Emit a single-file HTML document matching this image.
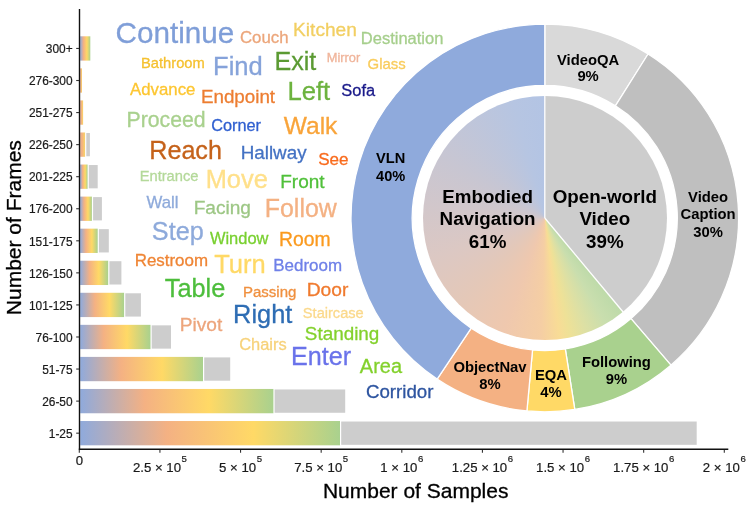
<!DOCTYPE html>
<html><head><meta charset="utf-8"><title>Dataset statistics</title>
<style>
html,body{margin:0;padding:0;background:#fff;}
#c{position:relative;width:748px;height:505px;overflow:hidden;background:#fff;font-family:"Liberation Sans",Arial,Helvetica,sans-serif;}
#pie{position:absolute;left:422.80px;top:96.00px;width:244.0px;height:244.0px;border-radius:50%;background:conic-gradient(from 0deg, #cdcdcd 0deg 140.2deg, #bddaa9 140.2deg, #c9deae 150deg, #dde0a4 160deg, #eee197 168deg, #f8dc96 173deg, #f5cea4 182deg, #efc8ae 200deg, #e4c8b8 225deg, #dcc8c3 250deg, #c8c6d2 300deg, #b6c5e2 345deg, #b3c4e4 360deg);}
svg{position:absolute;left:0;top:0;font-family:"Liberation Sans",Arial,Helvetica,sans-serif;}
</style></head><body><div id="c">
<div id="pie"></div>
<svg width="748" height="505" viewBox="0 0 748 505">
<defs><linearGradient id="g" x1="0" y1="0" x2="1" y2="0"><stop offset="0" stop-color="#8faadc"/><stop offset="0.333" stop-color="#f4b183"/><stop offset="0.667" stop-color="#ffd966"/><stop offset="1" stop-color="#a9d18e"/></linearGradient><linearGradient id="gs" x1="0" y1="0" x2="1" y2="0"><stop offset="0" stop-color="#eaae92"/><stop offset="0.4" stop-color="#f4b280"/><stop offset="0.8" stop-color="#f9cb6c"/><stop offset="1" stop-color="#f3d270"/></linearGradient></defs>
<rect x="80.2" y="36.30" width="10.10" height="24.3" fill="url(#g)"/>
<rect x="80.2" y="68.36" width="1.80" height="24.3" fill="url(#gs)"/>
<rect x="80.2" y="100.42" width="2.90" height="24.3" fill="url(#gs)"/>
<rect x="86.30" y="132.98" width="3.60" height="23.30" fill="#cdcdcd"/>
<rect x="80.2" y="132.48" width="4.90" height="24.3" fill="url(#gs)"/>
<rect x="88.80" y="165.04" width="8.90" height="23.30" fill="#cdcdcd"/>
<rect x="80.2" y="164.54" width="7.40" height="24.3" fill="url(#g)"/>
<rect x="93.10" y="197.10" width="8.80" height="23.30" fill="#cdcdcd"/>
<rect x="80.2" y="196.60" width="11.70" height="24.3" fill="url(#g)"/>
<rect x="98.90" y="229.16" width="9.90" height="23.30" fill="#cdcdcd"/>
<rect x="80.2" y="228.66" width="17.50" height="24.3" fill="url(#g)"/>
<rect x="109.40" y="261.22" width="12.00" height="23.30" fill="#cdcdcd"/>
<rect x="80.2" y="260.72" width="28.00" height="24.3" fill="url(#g)"/>
<rect x="125.30" y="293.28" width="15.60" height="23.30" fill="#cdcdcd"/>
<rect x="80.2" y="292.78" width="43.90" height="24.3" fill="url(#g)"/>
<rect x="151.70" y="325.34" width="19.30" height="23.30" fill="#cdcdcd"/>
<rect x="80.2" y="324.84" width="70.30" height="24.3" fill="url(#g)"/>
<rect x="204.20" y="357.40" width="26.00" height="23.30" fill="#cdcdcd"/>
<rect x="80.2" y="356.90" width="122.80" height="24.3" fill="url(#g)"/>
<rect x="274.60" y="389.46" width="70.60" height="23.30" fill="#cdcdcd"/>
<rect x="80.2" y="388.96" width="193.20" height="24.3" fill="url(#g)"/>
<rect x="341.20" y="421.52" width="355.50" height="23.30" fill="#cdcdcd"/>
<rect x="80.2" y="421.02" width="259.80" height="24.3" fill="url(#g)"/>
<g stroke="#111" stroke-width="1.4" fill="none">
<line x1="79.5" y1="9" x2="79.5" y2="450"/>
<line x1="78.8" y1="449.3" x2="728.3" y2="449.3"/>
</g>
<g stroke="#333" stroke-width="1.1">
<line x1="76.2" y1="48.45" x2="79" y2="48.45"/>
<line x1="76.2" y1="80.51" x2="79" y2="80.51"/>
<line x1="76.2" y1="112.57" x2="79" y2="112.57"/>
<line x1="76.2" y1="144.63" x2="79" y2="144.63"/>
<line x1="76.2" y1="176.69" x2="79" y2="176.69"/>
<line x1="76.2" y1="208.75" x2="79" y2="208.75"/>
<line x1="76.2" y1="240.81" x2="79" y2="240.81"/>
<line x1="76.2" y1="272.87" x2="79" y2="272.87"/>
<line x1="76.2" y1="304.93" x2="79" y2="304.93"/>
<line x1="76.2" y1="336.99" x2="79" y2="336.99"/>
<line x1="76.2" y1="369.05" x2="79" y2="369.05"/>
<line x1="76.2" y1="401.11" x2="79" y2="401.11"/>
<line x1="76.2" y1="433.17" x2="79" y2="433.17"/>
<line x1="79.30" y1="450" x2="79.30" y2="452.8"/>
<line x1="159.93" y1="450" x2="159.93" y2="452.8"/>
<line x1="240.55" y1="450" x2="240.55" y2="452.8"/>
<line x1="321.18" y1="450" x2="321.18" y2="452.8"/>
<line x1="401.80" y1="450" x2="401.80" y2="452.8"/>
<line x1="482.43" y1="450" x2="482.43" y2="452.8"/>
<line x1="563.05" y1="450" x2="563.05" y2="452.8"/>
<line x1="643.67" y1="450" x2="643.67" y2="452.8"/>
<line x1="724.30" y1="450" x2="724.30" y2="452.8"/>
</g>
<g font-size="11.9" fill="#1a1a1a" stroke="#1a1a1a" stroke-width="0.2" text-anchor="end">
<text x="72.6" y="53.15">300+</text>
<text x="72.6" y="85.21">276-300</text>
<text x="72.6" y="117.27">251-275</text>
<text x="72.6" y="149.33">226-250</text>
<text x="72.6" y="181.39">201-225</text>
<text x="72.6" y="213.45">176-200</text>
<text x="72.6" y="245.51">151-175</text>
<text x="72.6" y="277.57">126-150</text>
<text x="72.6" y="309.63">101-125</text>
<text x="72.6" y="341.69">76-100</text>
<text x="72.6" y="373.75">51-75</text>
<text x="72.6" y="405.81">26-50</text>
<text x="72.6" y="437.87">1-25</text>
</g>
<g font-size="13.2" fill="#1a1a1a" stroke="#1a1a1a" stroke-width="0.2" text-anchor="middle">
<text x="79.30" y="465.4">0</text>
<text x="159.93" y="472.3">2.5 × 10<tspan font-size="9.6" dx="0.5" dy="-10.4">5</tspan></text>
<text x="240.55" y="472.3">5 × 10<tspan font-size="9.6" dx="0.5" dy="-10.4">5</tspan></text>
<text x="321.18" y="472.3">7.5 × 10<tspan font-size="9.6" dx="0.5" dy="-10.4">5</tspan></text>
<text x="401.80" y="472.3">1 × 10<tspan font-size="9.6" dx="0.5" dy="-10.4">6</tspan></text>
<text x="482.43" y="472.3">1.25 × 10<tspan font-size="9.6" dx="0.5" dy="-10.4">6</tspan></text>
<text x="563.05" y="472.3">1.5 × 10<tspan font-size="9.6" dx="0.5" dy="-10.4">6</tspan></text>
<text x="643.67" y="472.3">1.75 × 10<tspan font-size="9.6" dx="0.5" dy="-10.4">6</tspan></text>
<text x="724.30" y="472.3">2 × 10<tspan font-size="9.6" dx="0.5" dy="-10.4">6</tspan></text>
</g>
<text x="322.9" y="497.7" font-size="21" fill="#000" stroke="#000" stroke-width="0.3">Number of Samples</text>
<text transform="translate(20.6,315.2) rotate(-90)" font-size="21" fill="#000" stroke="#000" stroke-width="0.3">Number of Frames</text>
<g>
<text x="115.52" y="42.6" font-size="29.67" fill="#7f9ed8" stroke="#7f9ed8" stroke-width="0.3">Continue</text>
<text x="239.96" y="42.9" font-size="16.79" fill="#eca67b" stroke="#eca67b" stroke-width="0.3">Couch</text>
<text x="293.12" y="35.6" font-size="19.11" fill="#f2cf62" stroke="#f2cf62" stroke-width="0.3">Kitchen</text>
<text x="360.81" y="43.8" font-size="16.5" fill="#a6cf8c" stroke="#a6cf8c" stroke-width="0.3">Destination</text>
<text x="140.99" y="67.8" font-size="14.71" fill="#f5c130" stroke="#f5c130" stroke-width="0.3">Bathroom</text>
<text x="213.09" y="74.7" font-size="25.56" fill="#86a3da" stroke="#86a3da" stroke-width="0.3">Find</text>
<text x="274.43" y="70.4" font-size="25.1" fill="#5b9a32" stroke="#5b9a32" stroke-width="0.3">Exit</text>
<text x="326.74" y="61.8" font-size="12.82" fill="#f0b49a" stroke="#f0b49a" stroke-width="0.3">Mirror</text>
<text x="367.55" y="68.6" font-size="14.94" fill="#f9cc5c" stroke="#f9cc5c" stroke-width="0.3">Glass</text>
<text x="130.06" y="95.4" font-size="16.8" fill="#fdc631" stroke="#fdc631" stroke-width="0.3">Advance</text>
<text x="200.95" y="102.9" font-size="18.79" fill="#ed7d31" stroke="#ed7d31" stroke-width="0.3">Endpoint</text>
<text x="287.38" y="99.9" font-size="25.67" fill="#6db33f" stroke="#6db33f" stroke-width="0.3">Left</text>
<text x="341.36" y="96.1" font-size="16.42" fill="#1a1a8a" stroke="#1a1a8a" stroke-width="0.3">Sofa</text>
<text x="126.55" y="127.0" font-size="21.24" fill="#a9d18e" stroke="#a9d18e" stroke-width="0.3">Proceed</text>
<text x="211.28" y="131.0" font-size="16.3" fill="#2f5fd0" stroke="#2f5fd0" stroke-width="0.3">Corner</text>
<text x="283.78" y="133.8" font-size="24.54" fill="#f9a43a" stroke="#f9a43a" stroke-width="0.3">Walk</text>
<text x="149.22" y="158.6" font-size="25.16" fill="#c5621a" stroke="#c5621a" stroke-width="0.3">Reach</text>
<text x="240.65" y="159.1" font-size="18.83" fill="#4472c4" stroke="#4472c4" stroke-width="0.3">Hallway</text>
<text x="318.23" y="164.8" font-size="17.04" fill="#f96b1d" stroke="#f96b1d" stroke-width="0.3">See</text>
<text x="139.69" y="181.1" font-size="14.7" fill="#b4d99a" stroke="#b4d99a" stroke-width="0.3">Entrance</text>
<text x="205.70" y="187.7" font-size="25.43" fill="#ffe08a" stroke="#ffe08a" stroke-width="0.3">Move</text>
<text x="280.23" y="187.8" font-size="19.0" fill="#50c03a" stroke="#50c03a" stroke-width="0.3">Front</text>
<text x="146.52" y="208.1" font-size="16.78" fill="#8eaadb" stroke="#8eaadb" stroke-width="0.3">Wall</text>
<text x="193.73" y="214.4" font-size="19.09" fill="#9dc785" stroke="#9dc785" stroke-width="0.3">Facing</text>
<text x="264.74" y="217.3" font-size="24.95" fill="#f4b183" stroke="#f4b183" stroke-width="0.3">Follow</text>
<text x="151.87" y="239.9" font-size="25.18" fill="#8eaadb" stroke="#8eaadb" stroke-width="0.3">Step</text>
<text x="209.92" y="244.3" font-size="16.48" fill="#79d030" stroke="#79d030" stroke-width="0.3">Window</text>
<text x="279.11" y="246.0" font-size="19.33" fill="#fb9a1e" stroke="#fb9a1e" stroke-width="0.3">Room</text>
<text x="134.70" y="265.9" font-size="16.93" fill="#ef8535" stroke="#ef8535" stroke-width="0.3">Restroom</text>
<text x="214.13" y="272.9" font-size="25.49" fill="#ffd966" stroke="#ffd966" stroke-width="0.3">Turn</text>
<text x="273.20" y="271.0" font-size="16.98" fill="#6f80e8" stroke="#6f80e8" stroke-width="0.3">Bedroom</text>
<text x="164.73" y="297.2" font-size="25.33" fill="#4dbe3c" stroke="#4dbe3c" stroke-width="0.3">Table</text>
<text x="242.96" y="296.9" font-size="15.03" fill="#f0903f" stroke="#f0903f" stroke-width="0.3">Passing</text>
<text x="306.71" y="296.3" font-size="19.23" fill="#f07a2e" stroke="#f07a2e" stroke-width="0.3">Door</text>
<text x="179.72" y="330.5" font-size="19.13" fill="#eda57c" stroke="#eda57c" stroke-width="0.3">Pivot</text>
<text x="233.11" y="323.2" font-size="25.39" fill="#2e6db4" stroke="#2e6db4" stroke-width="0.3">Right</text>
<text x="302.84" y="317.6" font-size="14.61" fill="#fbd98c" stroke="#fbd98c" stroke-width="0.3">Staircase</text>
<text x="239.18" y="350.1" font-size="16.43" fill="#f7d27a" stroke="#f7d27a" stroke-width="0.3">Chairs</text>
<text x="304.85" y="340.2" font-size="18.88" fill="#83d12c" stroke="#83d12c" stroke-width="0.3">Standing</text>
<text x="291.03" y="365.4" font-size="25.13" fill="#6a73ea" stroke="#6a73ea" stroke-width="0.3">Enter</text>
<text x="359.85" y="372.5" font-size="19.98" fill="#83d12c" stroke="#83d12c" stroke-width="0.3">Area</text>
<text x="365.97" y="398.2" font-size="18.69" fill="#2e55a0" stroke="#2e55a0" stroke-width="0.3">Corridor</text>
</g>
<path d="M544.80,24.20 A193.8,193.8 0 0 1 648.07,54.01 L615.41,105.88 A132.5,132.5 0 0 0 544.80,85.50 Z" fill="#d9d9d9" stroke="#fff" stroke-width="1.3" stroke-linejoin="round"/>
<path d="M648.07,54.01 A193.8,193.8 0 0 1 670.92,365.15 L631.03,318.60 A132.5,132.5 0 0 0 615.41,105.88 Z" fill="#bfbfbf" stroke="#fff" stroke-width="1.3" stroke-linejoin="round"/>
<path d="M670.92,365.15 A193.8,193.8 0 0 1 574.78,409.47 L565.30,348.90 A132.5,132.5 0 0 0 631.03,318.60 Z" fill="#a9d18e" stroke="#fff" stroke-width="1.3" stroke-linejoin="round"/>
<path d="M574.78,409.47 A193.8,193.8 0 0 1 526.90,410.97 L532.56,349.93 A132.5,132.5 0 0 0 565.30,348.90 Z" fill="#ffd966" stroke="#fff" stroke-width="1.3" stroke-linejoin="round"/>
<path d="M526.90,410.97 A193.8,193.8 0 0 1 437.13,379.14 L471.19,328.17 A132.5,132.5 0 0 0 532.56,349.93 Z" fill="#f4b183" stroke="#fff" stroke-width="1.3" stroke-linejoin="round"/>
<path d="M437.13,379.14 A193.8,193.8 0 0 1 544.80,24.20 L544.80,85.50 A132.5,132.5 0 0 0 471.19,328.17 Z" fill="#8faadc" stroke="#fff" stroke-width="1.3" stroke-linejoin="round"/>
<line x1="544.8" y1="218.0" x2="544.80" y2="95.00" stroke="#fff" stroke-width="1.3"/>
<line x1="544.8" y1="218.0" x2="623.53" y2="312.50" stroke="#fff" stroke-width="1.3"/>
<text font-size="14.8" font-weight="bold" fill="#000" text-anchor="middle"><tspan x="588.1" y="64.70">VideoQA</tspan><tspan x="588.1" y="80.80">9%</tspan></text>
<text font-size="14.8" font-weight="bold" fill="#000" text-anchor="middle"><tspan x="708.1" y="201.70">Video</tspan><tspan x="708.1" y="219.30">Caption</tspan><tspan x="708.1" y="237.00">30%</tspan></text>
<text font-size="14.8" font-weight="bold" fill="#000" text-anchor="middle"><tspan x="490.0" y="372.40">ObjectNav</tspan><tspan x="490.0" y="389.00">8%</tspan></text>
<text font-size="14.8" font-weight="bold" fill="#000" text-anchor="middle"><tspan x="551.0" y="379.90">EQA</tspan><tspan x="551.0" y="397.00">4%</tspan></text>
<text font-size="14.8" font-weight="bold" fill="#000" text-anchor="middle"><tspan x="616.4" y="367.30">Following</tspan><tspan x="616.4" y="384.30">9%</tspan></text>
<text font-size="14.6" font-weight="bold" fill="#000" text-anchor="middle"><tspan x="390.7" y="163.30">VLN</tspan><tspan x="390.7" y="180.60">40%</tspan></text>
<text font-size="18.8" font-weight="bold" fill="#000" text-anchor="middle"><tspan x="487.6" y="202.70">Embodied</tspan><tspan x="487.6" y="224.80">Navigation</tspan><tspan x="487.6" y="248.10">61%</tspan></text>
<text font-size="18.8" font-weight="bold" fill="#000" text-anchor="middle"><tspan x="604.8" y="202.70">Open-world</tspan><tspan x="604.8" y="224.80">Video</tspan><tspan x="604.8" y="248.10">39%</tspan></text>
</svg>
</div></body></html>
